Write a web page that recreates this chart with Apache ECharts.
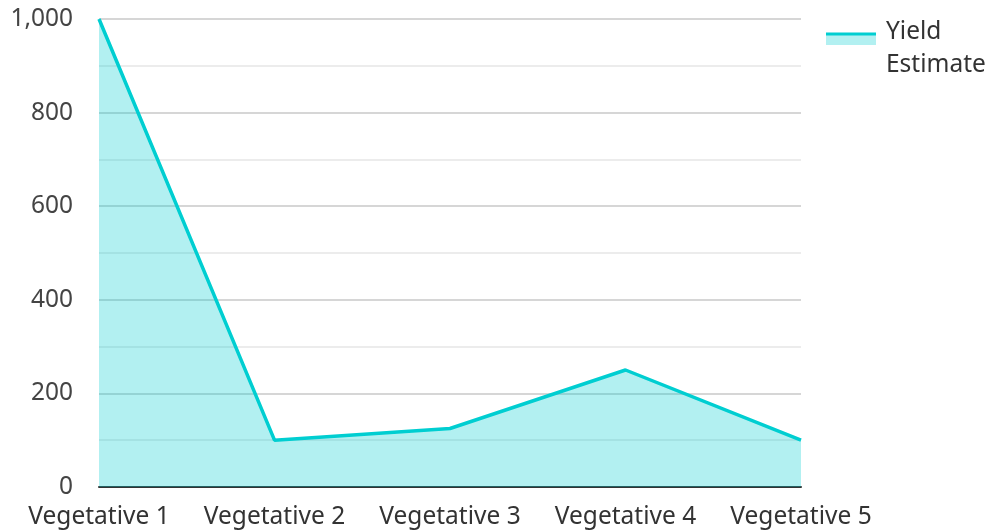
<!DOCTYPE html>
<html>
<head>
<meta charset="utf-8">
<style>html,body{margin:0;padding:0;background:#fff;}#chart{width:988px;height:531px;}</style>
<script src="https://cdn.jsdelivr.net/npm/echarts@6/dist/echarts.min.js"></script>
</head>
<body>
<div id="chart"></div>
<script>
const categories = ['Vegetative 1', 'Vegetative 2', 'Vegetative 3', 'Vegetative 4', 'Vegetative 5'];
const yieldEstimate = [1000, 100, 125, 250, 100];
const seriesName = 'Yield Estimate';
const yMin = 0, yMax = 1000, yInterval = 200;

const lineColor = '#00CED1';
const fillColor = 'rgba(0,206,209,0.3)';
const iconSvg = '<svg xmlns="http://www.w3.org/2000/svg" width="55" height="40" viewBox="0 0 55 40">' +
  '<rect x="0" y="6" width="50" height="10" fill="#b2f0f1"/>' +
  '<rect x="0" y="3.5" width="50" height="3" fill="#00CED1"/></svg>';
const iconUrl = 'image://data:image/svg+xml;charset=utf-8,' + encodeURIComponent(iconSvg);

const chart = echarts.init(document.getElementById('chart'));
const font = '"Noto Sans", sans-serif';
chart.setOption({
  animation: false,
  grid: { left: 99, right: 187, top: 19, bottom: 44, containLabel: false },
  legend: {
    orient: 'vertical',
    left: 821, top: 11,
    itemWidth: 55, itemHeight: 40,
    icon: iconUrl,
    formatter: function (n) { return n.replace(' ', '\n'); },
    textStyle: { fontFamily: font, fontSize: 24.5, color: '#333', lineHeight: 33 },
    data: [seriesName]
  },
  xAxis: {
    type: 'category',
    data: categories,
    boundaryGap: false,
    axisLine: { show: true, lineStyle: { color: '#333', width: 2 } },
    axisTick: { show: false },
    axisLabel: { fontFamily: font, fontSize: 24.5, color: '#333', margin: 18, interval: 0 },
    splitLine: { show: false }
  },
  yAxis: {
    type: 'value',
    min: yMin, max: yMax, interval: yInterval,
    axisLine: { show: false },
    axisTick: { show: false },
    axisLabel: { fontFamily: font, fontSize: 24.5, color: '#444', margin: 26 },
    splitLine: { show: true, lineStyle: { color: '#c8c8c8', width: 1.5 } },
    minorTick: { show: false, splitNumber: 2 },
    minorSplitLine: { show: true, lineStyle: { color: '#e6e6e6', width: 1.5 } }
  },
  series: [{
    name: seriesName,
    type: 'line',
    data: yieldEstimate,
    showSymbol: false,
    symbol: 'none',
    lineStyle: { color: lineColor, width: 3.5 },
    itemStyle: { color: lineColor },
    areaStyle: { color: fillColor, opacity: 1 }
  }]
});
</script>
</body>
</html>
